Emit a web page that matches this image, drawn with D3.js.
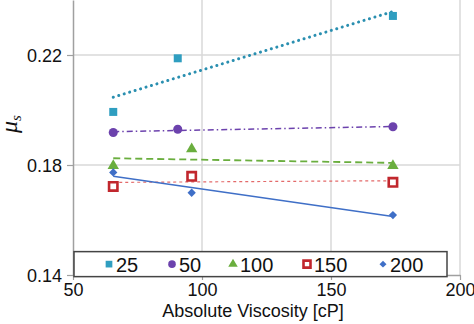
<!DOCTYPE html>
<html>
<head>
<meta charset="utf-8">
<script src="https://cdn.jsdelivr.net/npm/d3@7"></script>
<style>
  body { margin: 0; background: #fff; }
  svg { display: block; font-family: "Liberation Sans", Arial, sans-serif; }
</style>
</head>
<body>
<svg id="chart" width="474" height="324"></svg>
<script>
// data
const seriesNames = ["25", "50", "100", "150", "200"];
const visc25 = [65.6, 90.6, 174];
const visc50 = [65.6, 90.6, 174];
const visc100 = [65.6, 96, 174];
const visc150 = [65.6, 96, 174];
const visc200 = [65.6, 96, 174];
const mu25 = [0.1993, 0.2188, 0.2342];
const mu50 = [0.1918, 0.1930, 0.1939];
const mu100 = [0.1797, 0.1858, 0.1797];
const mu150 = [0.1722, 0.1759, 0.1737];
const mu200 = [0.1773, 0.1699, 0.1618];
const xTicks = [50, 100, 150, 200];
const yTicks = [0.14, 0.18, 0.22];

const margin = { top: 0, right: 14, bottom: 49, left: 73 };
const width = 474 - margin.left - margin.right;
const height = 324 - margin.top - margin.bottom;

const xScale = d3.scaleLinear().domain([50, 200]).range([0, width]);
const yScale = d3.scaleLinear().domain([0.14, 0.24]).range([height, 0]);

const styles = {
  "25":  { color: "#2f9ec0", line: "#2a8fb0", dash: "0.1,5.6", w: 3, cap: "round", sym: d3.symbolSquare, size: 64 },
  "50":  { color: "#6c42ad", dash: "6,3,1.5,3", w: 1.5, cap: "butt", sym: d3.symbolCircle, size: 64 },
  "100": { color: "#6aae3e", dash: "7,4", w: 1.8, cap: "butt", sym: d3.symbolTriangle, size: 56 },
  "150": { color: "#c1272d", line: "#e36a6a", dash: "3,3", w: 1.2, cap: "butt", sym: d3.symbolSquare, size: 70, open: true },
  "200": { color: "#3f6fc7", dash: null, w: 1.5, cap: "butt", sym: d3.symbolDiamond2, size: 44 }
};

const series = [
  { name: "25", x: visc25, y: mu25 },
  { name: "50", x: visc50, y: mu50 },
  { name: "100", x: visc100, y: mu100 },
  { name: "150", x: visc150, y: mu150 },
  { name: "200", x: visc200, y: mu200 }
];

// least squares trend line
function fit(xs, ys) {
  const mx = d3.mean(xs), my = d3.mean(ys);
  const sxy = d3.sum(xs, (x, i) => (x - mx) * (ys[i] - my));
  const sxx = d3.sum(xs, x => (x - mx) * (x - mx));
  const b = sxy / sxx;
  const a = my - b * mx;
  const x0 = d3.min(xs), x1 = d3.max(xs);
  return [[x0, a + b * x0], [x1, a + b * x1]];
}

const svg = d3.select("#chart")
  .append("g")
  .attr("transform", `translate(${margin.left}, ${margin.top})`);

// grid
svg.append("g")
  .selectAll("line.vg")
  .data(xTicks.slice(1))
  .join("line")
  .attr("x1", d => xScale(d)).attr("x2", d => xScale(d))
  .attr("y1", 0).attr("y2", height)
  .attr("stroke", "#d9d9d9").attr("stroke-width", 1.5);
svg.append("g")
  .selectAll("line.hg")
  .data(yTicks.slice(1))
  .join("line")
  .attr("x1", 0).attr("x2", width)
  .attr("y1", d => yScale(d)).attr("y2", d => yScale(d))
  .attr("stroke", "#d9d9d9").attr("stroke-width", 1.5);

// axes
const xAxis = svg.append("g")
  .attr("transform", `translate(0, ${height})`)
  .call(d3.axisBottom(xScale).tickValues(xTicks).tickSize(5).tickSizeOuter(0).tickPadding(3));
const yAxis = svg.append("g")
  .call(d3.axisLeft(yScale).tickValues(yTicks).tickFormat(d3.format(".2f")).tickSize(6).tickSizeOuter(0).tickPadding(5));
[xAxis, yAxis].forEach(ax => {
  ax.select(".domain").attr("stroke", "#a0a0a0").attr("stroke-width", 1.5);
  ax.selectAll(".tick line").attr("stroke", "#a0a0a0").attr("stroke-width", 1.2);
  ax.selectAll(".tick text")
    .attr("fill", "#111")
    .attr("font-size", 18)
    .attr("font-family", "Liberation Sans, Arial, sans-serif");
});
yAxis.selectAll(".tick text").attr("dy", "0.36em");

// trend lines
const line = d3.line().x(d => xScale(d[0])).y(d => yScale(d[1]));
series.forEach(s => {
  const st = styles[s.name];
  svg.append("path")
    .datum(fit(s.x, s.y))
    .attr("d", line)
    .attr("fill", "none")
    .attr("stroke", st.line || st.color)
    .attr("stroke-width", st.w)
    .attr("stroke-linecap", st.cap)
    .attr("stroke-dasharray", st.dash);
});

// markers
function drawSymbol(g, st, scale) {
  return g.append("path")
    .attr("d", d3.symbol().type(st.sym).size(st.size * (scale || 1))())
    .attr("fill", st.open ? "#fff" : st.color)
    .attr("stroke", st.open ? st.color : "none")
    .attr("stroke-width", st.open ? 2.6 : 0);
}
series.forEach(s => {
  const st = styles[s.name];
  s.x.forEach((x, i) => {
    const g = svg.append("g")
      .attr("transform", `translate(${xScale(x)}, ${yScale(s.y[i])})`);
    drawSymbol(g, st);
  });
});

// legend
const legend = svg.append("g").attr("transform", `translate(0, ${yScale(0.1485)})`);
legend.append("rect")
  .attr("x", 1).attr("y", 0)
  .attr("width", 373).attr("height", 25)
  .attr("fill", "#fff")
  .attr("stroke", "#444").attr("stroke-width", 1.5);
const legendX = [36, 99, 160, 234, 310];
seriesNames.forEach((name, i) => {
  const st = styles[name];
  const g = legend.append("g").attr("transform", `translate(${legendX[i]}, 12.5)`);
  drawSymbol(g, st, 0.7);
  legend.append("text")
    .attr("x", legendX[i] + 7)
    .attr("y", 20)
    .attr("font-size", 20)
    .attr("fill", "#111")
    .text(name);
});

// axis titles
d3.select("#chart").append("text")
  .attr("x", 253).attr("y", 317)
  .attr("text-anchor", "middle")
  .attr("font-size", 18)
  .attr("fill", "#111")
  .text("Absolute Viscosity [cP]");

const yTitle = d3.select("#chart").append("text")
  .attr("transform", "translate(17, 124) rotate(-90)")
  .attr("text-anchor", "middle")
  .attr("font-family", "Liberation Serif, Times New Roman, serif")
  .attr("font-style", "italic")
  .attr("font-size", 24)
  .attr("fill", "#111");
yTitle.append("tspan").text("μ");
yTitle.append("tspan").attr("font-size", 15).attr("dy", 4).text("s");
</script>
</body>
</html>
